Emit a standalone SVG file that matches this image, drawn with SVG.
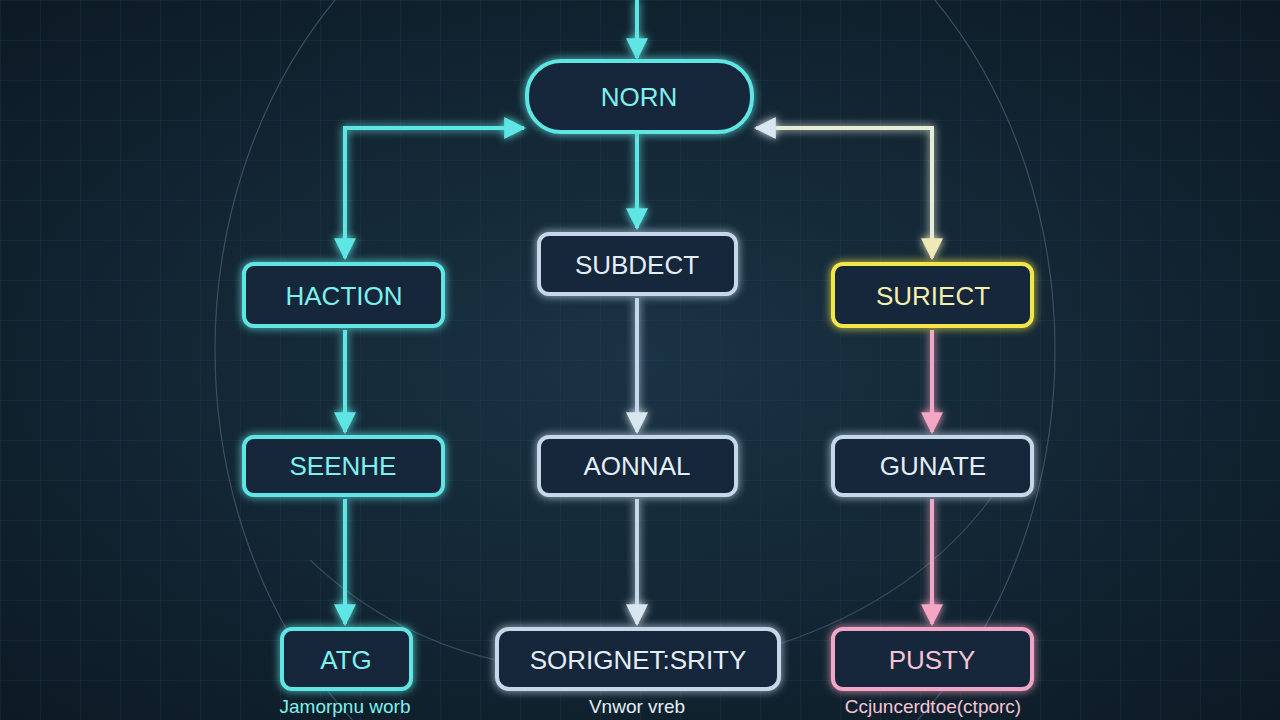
<svg xmlns="http://www.w3.org/2000/svg" width="1280" height="720" viewBox="0 0 1280 720">
<defs>
<radialGradient id="bg" cx="50%" cy="50%" r="70%">
<stop offset="0" stop-color="#1a3344"/>
<stop offset="1" stop-color="#0c1a25"/>
</radialGradient>
<pattern id="grid" width="40" height="40" patternUnits="userSpaceOnUse">
<path d="M40 0H0V40" fill="none" stroke="#26445a" stroke-width="1" opacity="0.45"/>
</pattern>
<filter id="glow" x="-30%" y="-50%" width="160%" height="200%">
<feGaussianBlur in="SourceGraphic" stdDeviation="4" result="b"/>
<feMerge><feMergeNode in="b"/><feMergeNode in="SourceGraphic"/></feMerge>
</filter>
<marker id="aC" viewBox="0 0 10 10" refX="9" refY="5" markerWidth="5.5" markerHeight="6" orient="auto-start-reverse" markerUnits="strokeWidth"><path d="M0 0L10 5L0 10z" fill="#5ee6e4"/></marker>
<marker id="aW" viewBox="0 0 10 10" refX="9" refY="5" markerWidth="5.5" markerHeight="6" orient="auto-start-reverse" markerUnits="strokeWidth"><path d="M0 0L10 5L0 10z" fill="#d8e6f0"/></marker>
<marker id="aY" viewBox="0 0 10 10" refX="9" refY="5" markerWidth="5.5" markerHeight="6" orient="auto-start-reverse" markerUnits="strokeWidth"><path d="M0 0L10 5L0 10z" fill="#eeeab8"/></marker>
<marker id="aP" viewBox="0 0 10 10" refX="9" refY="5" markerWidth="5.5" markerHeight="6" orient="auto-start-reverse" markerUnits="strokeWidth"><path d="M0 0L10 5L0 10z" fill="#f4a6c4"/></marker>
<style>
.box{fill:#14283a;stroke-width:4}
.cy{stroke:#5ee6e4}
.wb{stroke:#c4d8ea}
.ye{stroke:#f2e64a}
.pk{stroke:#f2a6c6}
.t{font-family:"Liberation Sans",Arial,sans-serif;font-size:26px;text-anchor:middle;dominant-baseline:central}
.tc{fill:#7ef0ee}
.tw{fill:#e4eef6}
.ty{fill:#f4f0b0}
.tp{fill:#f6c4d8}
.ln{fill:none;stroke-width:4}
.sub{font-family:"Liberation Sans",Arial,sans-serif;font-size:19px;text-anchor:middle}
</style>
</defs>
<rect width="1280" height="720" fill="url(#bg)"/>
<rect width="1280" height="720" fill="url(#grid)"/>
<ellipse cx="635" cy="350" rx="420" ry="500" fill="none" stroke="#4a6472" stroke-width="1.2" opacity="0.7"/>
<path d="M310 560 Q 480 720 760 650 Q 930 600 1010 470" fill="none" stroke="#4a6472" stroke-width="1.2" opacity="0.6"/>

<g id="connectors" filter="url(#glow)">
<path class="ln" stroke="#5ee6e4" d="M637 0V58" marker-end="url(#aC)"/>
<path class="ln" stroke="#5ee6e4" d="M637 134V228" marker-end="url(#aC)"/>
<path class="ln" stroke="#5ee6e4" d="M345 258V128H524" marker-start="url(#aC)" marker-end="url(#aC)"/>
<path class="ln" stroke="#e6ecd8" d="M932 258V128H756" marker-start="url(#aY)" marker-end="url(#aW)"/>
<path class="ln" stroke="#5ee6e4" d="M345 330V432" marker-end="url(#aC)"/>
<path class="ln" stroke="#5ee6e4" d="M345 499V624" marker-end="url(#aC)"/>
<path class="ln" stroke="#c4d8ea" d="M637 298V432" marker-end="url(#aW)"/>
<path class="ln" stroke="#c4d8ea" d="M637 499V624" marker-end="url(#aW)"/>
<path class="ln" stroke="#f2a6c6" d="M932 330V432" marker-end="url(#aP)"/>
<path class="ln" stroke="#f2a6c6" d="M932 499V624" marker-end="url(#aP)"/>
</g>

<g id="norn"><rect class="box cy" x="527" y="61" width="225" height="71" rx="34" filter="url(#glow)"/><text class="t tc" x="639" y="97" font-size="36">NORN</text></g>
<g id="subdect"><rect class="box wb" x="539" y="234" width="197" height="60" rx="10" filter="url(#glow)"/><text class="t tw" x="637" y="265">SUBDECT</text></g>
<g id="haction"><rect class="box cy" x="244" y="264" width="199" height="62" rx="10" filter="url(#glow)"/><text class="t tc" x="344" y="296">HACTION</text></g>
<g id="suriect"><rect class="box ye" x="833" y="264" width="199" height="62" rx="10" filter="url(#glow)"/><text class="t ty" x="933" y="296">SURIECT</text></g>
<g id="seenhe"><rect class="box cy" x="244" y="437" width="199" height="58" rx="10" filter="url(#glow)"/><text class="t tc" x="343" y="466">SEENHE</text></g>
<g id="aonnal"><rect class="box wb" x="539" y="437" width="197" height="58" rx="10" filter="url(#glow)"/><text class="t tw" x="637" y="466">AONNAL</text></g>
<g id="gunate"><rect class="box wb" x="833" y="437" width="199" height="58" rx="10" filter="url(#glow)"/><text class="t tw" x="933" y="466">GUNATE</text></g>
<g id="atg"><rect class="box cy" x="282" y="629" width="129" height="60" rx="10" filter="url(#glow)"/><text class="t tc" x="346" y="660">ATG</text></g>
<g id="sorignet"><rect class="box wb" x="497" y="629" width="282" height="60" rx="12" filter="url(#glow)"/><text class="t tw" x="638" y="660">SORIGNET:SRITY</text></g>
<g id="pusty"><rect class="box pk" x="833" y="629" width="199" height="60" rx="10" filter="url(#glow)"/><text class="t tp" x="932" y="660">PUSTY</text></g>

<text class="sub" x="345" y="713" fill="#7ef0ee">Jamorpnu worb</text>
<text class="sub" x="637" y="713" fill="#e4eef6">Vnwor vreb</text>
<text class="sub" x="933" y="713" fill="#f6c4d8">Ccjuncerdtoe(ctporc)</text>
</svg>
